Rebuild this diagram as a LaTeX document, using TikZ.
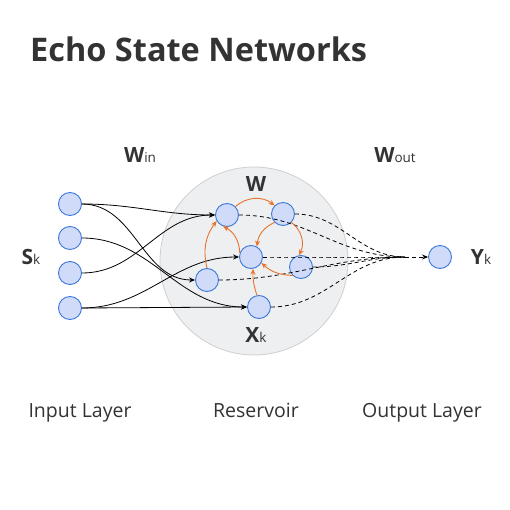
\documentclass[tikz,border=0pt]{standalone}
\usepackage{fontspec}
\setmainfont{Open Sans}
\usetikzlibrary{arrows.meta}
\definecolor{txt}{HTML}{333333}
\definecolor{nfill}{HTML}{CFDBF8}
\definecolor{nedge}{HTML}{3C78D8}
\definecolor{resfill}{HTML}{EEEFF1}
\definecolor{resedge}{HTML}{CFCFCF}
\definecolor{rec}{HTML}{E8732C}
\begin{document}
\begin{tikzpicture}[x=1pt,y=-1pt,
  neuron/.style={circle,draw=nedge,fill=nfill,line width=0.9pt,minimum size=23pt,inner sep=0pt},
  inarrow/.style={black,line width=0.8pt,-{Stealth[length=6pt,width=5pt]}},
  outarrow/.style={black,line width=0.8pt,dash pattern=on 4pt off 3pt},
  recarrow/.style={rec,line width=0.9pt,-{Stealth[length=6pt,width=5pt]}},
  lab/.style={text=txt,font=\fontsize{19.5}{19.5}\selectfont},
  big/.style={text=txt,inner sep=0pt}
]
\useasboundingbox (0,0) rectangle (510,510);
\fill[white] (0,0) rectangle (510,510);
% title
\node[big,anchor=base west,font=\fontsize{32.5}{32.5}\selectfont\bfseries] (title) at (30,62) {Echo State Networks};
% reservoir
\node[circle,draw=resedge,fill=resfill,line width=0.8pt,minimum size=188pt,inner sep=0pt] (res) at (254,261) {};
% neurons
\node[neuron] (i1) at (70,204) {};
\node[neuron] (i2) at (70,238) {};
\node[neuron] (i3) at (70,273) {};
\node[neuron] (i4) at (70,308) {};
\node[neuron] (a) at (227,215) {};
\node[neuron] (b) at (283,214) {};
\node[neuron] (c) at (251,257) {};
\node[neuron] (d) at (301,267) {};
\node[neuron] (e) at (207,280) {};
\node[neuron] (f) at (259,307) {};
\node[neuron] (y) at (440,257) {};
% output connections
\coordinate (conv) at (405,257);
\foreach \n in {a,b,c,d,e,f}{
  \draw[outarrow] (\n.east) to[out=0,in=180] (conv);
}
\draw[outarrow,-{Stealth[length=6pt,width=5pt]}] (conv) -- (y.west);
% input connections
\draw[inarrow] (i1.east) to[out=0,in=180] (a.west);
\draw[inarrow] (i1.east) to[out=0,in=180] (e.west);
\draw[inarrow] (i2.east) to[out=0,in=180] (f.west);
\draw[inarrow] (i3.east) to[out=0,in=180] (a.west);
\draw[inarrow] (i4.east) to[out=0,in=180] (c.west);
\draw[inarrow] (i4.east) -- (f.west);
% recurrent
\draw[recarrow] (a.45) to[bend left=40] (b.135);
\draw[recarrow] (b.225) to[bend right=30] (c.60);
\draw[recarrow] (b.-45) to[bend left=40] (d.100);
\draw[recarrow] (c.160) to[bend right=30] (a.-110);
\draw[recarrow] (e.90) to[bend left=25] (a.-150);
\draw[recarrow] (d.-135) to[bend left=20] (c.-30);
\draw[recarrow] (f.100) to[bend left=10] (c.-80);
% labels
\node[big] (win) at (140,155) {\fontsize{21}{21}\selectfont\bfseries W\fontsize{13.5}{13.5}\selectfont\mdseries in};
\node[big] (wout) at (395,155) {\fontsize{21}{21}\selectfont\bfseries W\fontsize{13.5}{13.5}\selectfont\mdseries out};
\node[big] (wres) at (256,184) {\fontsize{21}{21}\selectfont\bfseries W};
\node[big] (xk) at (256,335) {\fontsize{21}{21}\selectfont\bfseries X\fontsize{13.5}{13.5}\selectfont\mdseries k};
\node[big] (sk) at (31,257) {\fontsize{21}{21}\selectfont\bfseries S\fontsize{13.5}{13.5}\selectfont\mdseries k};
\node[big] (yk) at (481,257) {\fontsize{21}{21}\selectfont\bfseries Y\fontsize{13.5}{13.5}\selectfont\mdseries k};
\node[lab,anchor=base] (l1) at (80,417) {Input Layer};
\node[lab,anchor=base] (l2) at (256,417) {Reservoir};
\node[lab,anchor=base] (l3) at (422,417) {Output Layer};
\end{tikzpicture}
\end{document}
